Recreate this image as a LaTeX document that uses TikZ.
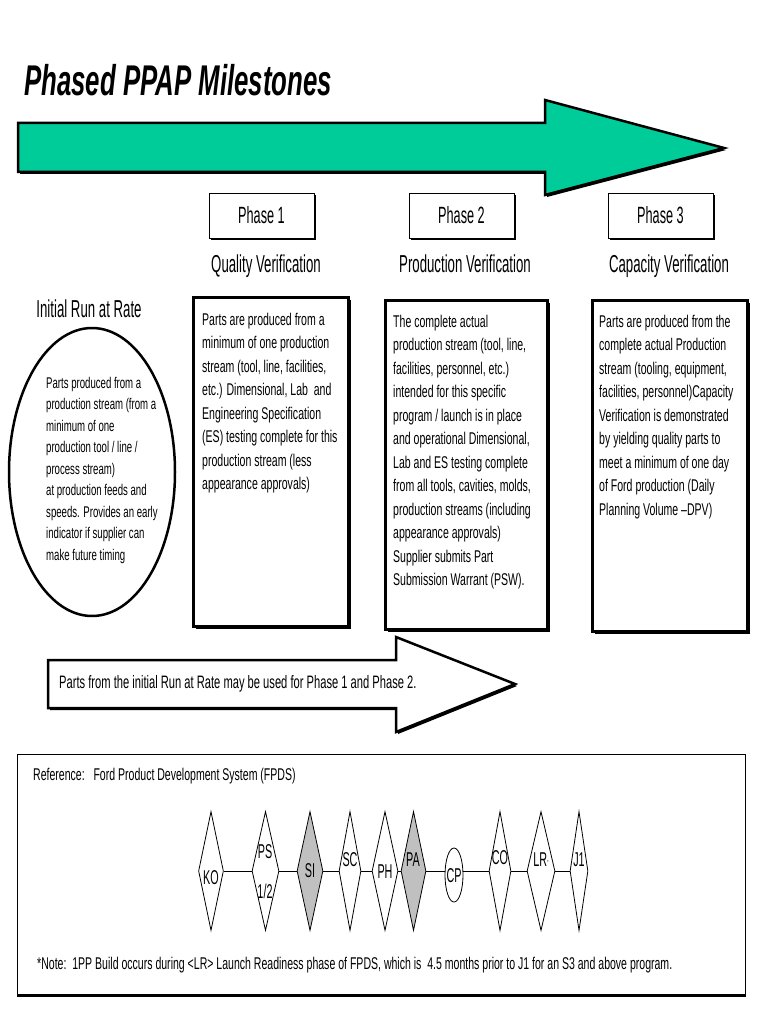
\documentclass[tikz,border=0pt]{standalone}
\usepackage{fontspec}
\setmainfont{Liberation Sans}[FakeStretch=0.62]
\newfontfamily\headfont{Liberation Sans}[FakeStretch=0.54]
\newfontfamily\titlefont{Liberation Sans}[FakeStretch=0.6]
\newcommand\natsp{\spaceskip=0pt\xspaceskip=0pt\relax}
\usetikzlibrary{shapes.geometric,shadows}
\definecolor{arrowgreen}{RGB}{0,204,153}
\definecolor{milegrey}{RGB}{192,192,192}
\begin{document}
\begin{tikzpicture}[x=1pt,y=-1pt,
  every node/.style={inner sep=0pt},
  bodytext/.style={font=\fontsize{17}{23.5}\selectfont, align=left, text width=#1, anchor=base west},
  headtext/.style={font=\headfont\fontsize{24.5}{28}\selectfont},
  phasebox/.style={draw, line width=0.9pt, fill=white, minimum width=105, minimum height=45,
    general shadow={fill=black, shadow xshift=2pt, shadow yshift=-2pt}, font=\headfont\fontsize{23.5}{28}\selectfont},
  thickbox/.style={draw, line width=2.5pt, fill=white, anchor=north west,
    general shadow={fill=black, shadow xshift=2.5pt, shadow yshift=-2.5pt}},
  mile/.style={diamond, draw, line width=0.8pt, fill=white, minimum width=#1, minimum height=119},
  milelab/.style={font=\headfont\fontsize{20}{20}\selectfont},
  conn/.style={line width=1pt}]
\path[use as bounding box] (0,0) rectangle (768,1024);

% title
\node[anchor=base west, font=\titlefont\fontsize{43}{48}\selectfont\bfseries\itshape] (title) at (24,96) {Phased PPAP Milestones};

% big green arrow
\fill[black, shift={(2,2)}] (18,123) -- (545,123) -- (545,100) -- (724,148) -- (545,195) -- (545,172) -- (18,172) -- cycle;
\draw[line width=2.5pt, fill=arrowgreen, line join=miter] (18,123) -- (545,123) -- (545,100) -- (724,148) -- (545,195) -- (545,172) -- (18,172) -- cycle;

% phase boxes
\node[phasebox] (p1) at (261.5,215.5) {Phase 1};
\node[phasebox] (p2) at (461.5,215.5) {Phase 2};
\node[phasebox] (p3) at (660.5,215.5) {Phase 3};

\node[headtext, anchor=base] (h1) at (266,272) {Quality Verification};
\node[headtext, anchor=base] (h2) at (465,272) {Production Verification};
\node[headtext, anchor=base] (h3) at (669,272) {Capacity Verification};
\node[headtext, anchor=base] (h0) at (89,317) {Initial Run at Rate};

% initial run ellipse
\node[ellipse, draw, line width=2.5pt, fill=white, minimum width=166, minimum height=288] (run) at (92,472) {};
\node[bodytext=130, font=\fontsize{15.5}{21.5}\selectfont] (runtext) at (46,388) {\natsp Parts produced from a\\
production stream (from a\\
minimum of one\\
production tool / line /\\
process stream)\\
at production feeds and\\
speeds. Provides an early\\
indicator if supplier can\\
make future timing};

% phase text boxes
\node[thickbox, minimum width=155, minimum height=329] (b1) at (192,296) {};
\node[bodytext=150] (b1text) at (202,325) {\natsp Parts are produced from a\\
minimum of one production\\
stream (tool, line, facilities,\\
etc.) Dimensional, Lab\ \ and\\
Engineering Specification\\
(ES) testing complete for this\\
production stream (less\\
appearance approvals)};

\node[thickbox, minimum width=162, minimum height=329] (b2) at (384,299) {};
\node[bodytext=160] (b2text) at (393,327) {\natsp The complete actual\\
production stream (tool, line,\\
facilities, personnel, etc.)\\
intended for this specific\\
program / launch is in place\\
and operational Dimensional,\\
Lab and ES testing complete\\
from all tools, cavities, molds,\\
production streams (including\\
appearance approvals)\\
Supplier submits Part\\
Submission Warrant (PSW).};

\node[thickbox, minimum width=155, minimum height=331] (b3) at (591,299) {};
\node[bodytext=155] (b3text) at (599,327) {\natsp Parts are produced from the\\
complete actual Production\\
stream (tooling, equipment,\\
facilities, personnel)Capacity\\
Verification is demonstrated\\
by yielding quality parts to\\
meet a minimum of one day\\
of Ford production (Daily\\
Planning Volume \textendash DPV)};

% lower arrow
\fill[black, shift={(2,2)}] (48,660) -- (396,660) -- (396,637) -- (515,684) -- (396,732) -- (396,708) -- (48,708) -- cycle;
\draw[line width=2.5pt, fill=white, line join=miter] (48,660) -- (396,660) -- (396,637) -- (515,684) -- (396,732) -- (396,708) -- (48,708) -- cycle;
\node[anchor=west, font=\fontsize{18}{20}\selectfont] (rartext) at (59,684) {Parts from the initial Run at Rate may be used for Phase 1 and Phase 2.};

% reference frame
\node[draw, line width=0.9pt, anchor=north west, minimum width=728, minimum height=241] (refbox) at (17,754) {};
\draw[line width=3pt] (refbox.south west) -- (refbox.south east);
\node[anchor=base west, font=\fontsize{17}{20}\selectfont] (reftext) at (33,780) {Reference:\ \ \ Ford Product Development System (FPDS)};

% FPDS milestones
\node[mile=25] (ko) at (211,871) {};
\node[mile=27] (ps) at (265.5,871) {};
\node[mile=26, fill=milegrey] (si) at (310,871) {};
\node[mile=22] (sc) at (350,871) {};
\node[mile=26] (ph) at (385,871) {};
\node[mile=25, fill=milegrey] (pa) at (413.5,871) {};
\node[ellipse, draw, line width=0.8pt, fill=white, minimum width=18, minimum height=54] (cp) at (454,875) {};
\node[mile=22] (co) at (500,871) {};
\node[mile=28] (lr) at (541,871) {};
\node[mile=18] (jone) at (579,871) {};

\draw[conn] (ko.east) -- (ps.west);
\draw[conn] (ps.east) -- (si.west);
\draw[conn] (si.east) -- (sc.west);
\draw[conn] (sc.east) -- (ph.west);
\draw[conn] (ph.east) -- (pa.west);
\draw[conn] (pa.east) -- (pa.east -| cp.west);
\draw[conn] (co.west -| cp.east) -- (co.west);
\draw[conn] (co.east) -- (lr.west);
\draw[conn] (lr.east) -- (jone.west);

\node[milelab] (kol) at (211,878) {KO};
\node[milelab] (psl) at (265,852) {PS};
\node[milelab] (psl2) at (265,891) {1/2};
\node[milelab] (sil) at (310,871) {SI};
\node[milelab] (scl) at (350,860) {SC};
\node[milelab] (phl) at (385,872) {PH};
\node[milelab] (pal) at (413,860) {PA};
\node[milelab] (cpl) at (454,876) {CP};
\node[milelab] (col) at (500,858) {CO};
\node[milelab] (lrl) at (541,860) {LR\raisebox{2pt}{\fontsize{6}{6}\selectfont*}};
\node[milelab] (jonel) at (579,860) {J1};

\node[anchor=base west, font=\fontsize{17}{20}\selectfont] (note) at (37,969) {*Note:\ \ 1PP Build occurs during <LR> Launch Readiness phase of FPDS, which is\ \ 4.5 months prior to J1 for an S3 and above program.};
\end{tikzpicture}
\end{document}
